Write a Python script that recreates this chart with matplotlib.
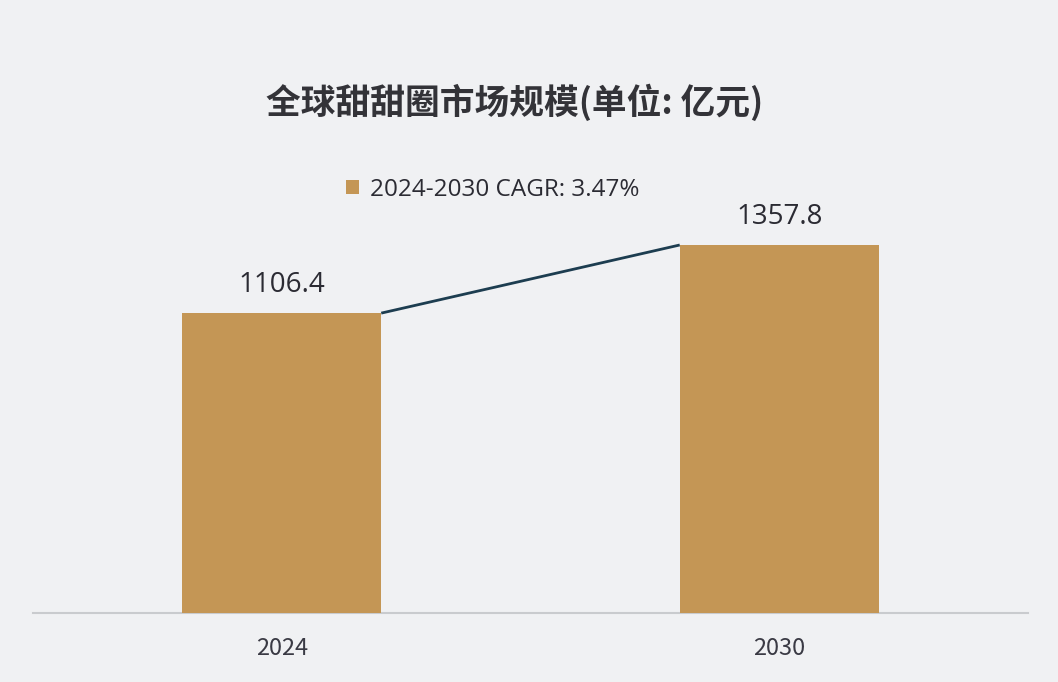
import matplotlib
matplotlib.use("Agg")
import matplotlib.pyplot as plt
from matplotlib.patches import Patch

plt.rcParams['font.family'] = ['Noto Sans CJK SC', 'DejaVu Sans']

categories = ["2024", "2030"]
values = [1106.4, 1357.8]
value_labels = ["1106.4", "1357.8"]
title = "全球甜甜圈市场规模(单位: 亿元)"
legend_label = "2024-2030 CAGR: 3.47%"

bg = "#f0f1f3"
bar_color = "#c49655"
line_color = "#1d3d50"
text_color = "#2b2b33"
num_font = ['Open Sans', 'DejaVu Sans']

fig = plt.figure(figsize=(10.58, 6.82), dpi=100, facecolor=bg)
ax = fig.add_axes([0.0312, 0.1012, 0.9404, 0.6642], facecolor=bg)

x = list(range(len(categories)))
width = 0.4
bars = ax.bar(x, values, width=width, color=bar_color, zorder=3)

# connecting line from top-right of first bar to top-left of second bar
ax.plot([x[0] + width / 2, x[1] - width / 2], [values[0], values[1]],
        color=line_color, lw=2, zorder=4, solid_capstyle='butt')

for xi, v, lab in zip(x, values, value_labels):
    ax.annotate(lab, (xi, v), xytext=(0, 10), textcoords="offset points",
                ha="center", va="bottom", fontsize=20, color=text_color,
                family=num_font)

ax.set_xlim(-0.5, 1.5)
ax.set_ylim(0, 453 * 1357.8 / 368)
ax.set_xticks(x)
ax.set_xticklabels(categories, fontsize=17, color="#3a3a44")
ax.tick_params(axis='x', length=0, pad=17)
ax.set_yticks([])
for s in ["top", "right", "left"]:
    ax.spines[s].set_visible(False)
ax.spines["bottom"].set_color("#c9cbce")
ax.spines["bottom"].set_linewidth(1.5)

fig.text(0.486, 0.850, title, ha="center", va="center", fontsize=25,
         fontweight="bold", color="#333338")

handle = Patch(facecolor=bar_color, edgecolor="none")
fig.legend([handle], [legend_label], loc="center", bbox_to_anchor=(0.4655, 0.722),
           frameon=False, prop={'family': num_font, 'size': 17.5},
           handlelength=0.55, handleheight=0.55,
           handletextpad=0.45, labelcolor=text_color)

fig.savefig("out.png", dpi=100, facecolor=bg)
